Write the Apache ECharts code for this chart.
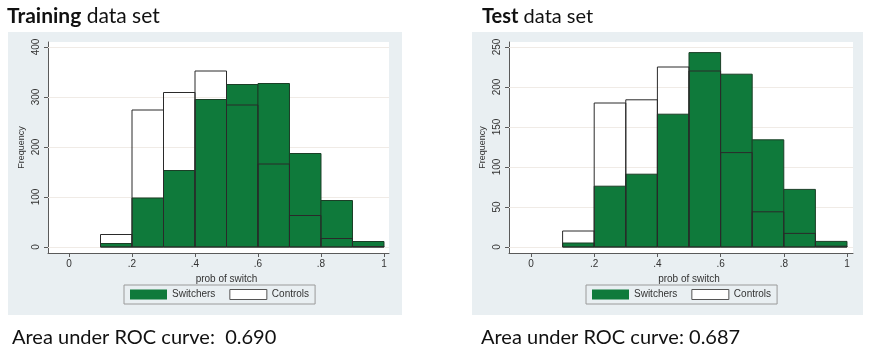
<!DOCTYPE html>
<html>
<head>
<meta charset="utf-8">
<script src="https://cdn.jsdelivr.net/npm/echarts@6/dist/echarts.min.js"></script>
<style>
  html, body { margin: 0; padding: 0; background: #fff; }
  #chart { width: 878px; height: 346px; }
</style>
</head>
<body>
<div id="chart"></div>
<script>
// histogram bins: edges of prob of switch
const binEdges = [0.1, 0.2, 0.3, 0.4, 0.5, 0.6, 0.7, 0.8, 0.9, 1.0]
const xTicks = [0, 0.2, 0.4, 0.6, 0.8, 1]

// training data set
const trainSwitchers = [7, 98, 153, 295, 325, 327, 187, 93, 11]
const trainControls = [25, 274, 309, 352, 284, 166, 63, 17, 1]
const trainYTicks = [0, 100, 200, 300, 400]

// test data set
const testSwitchers = [5, 76, 91, 166, 243, 216, 134, 72, 7]
const testControls = [20, 180, 184, 225, 220, 118, 44, 17, 1]
const testYTicks = [0, 50, 100, 150, 200, 250]

const GREEN = '#0f7a3b'
const PANEL = '#e9eff2'
const AXIS = '#5a5a5a'
const SANS = '"Liberation Sans", Arial, sans-serif'
const TITLE_FONT = 'Lato, "Open Sans", sans-serif'

const toBins = vals => vals.map((v, i) => [binEdges[i], binEdges[i + 1], v])

const renderBin = (fill, stroke) => (params, api) => {
  const p0 = api.coord([api.value(0), 0])
  const p1 = api.coord([api.value(1), api.value(2)])
  return {
    type: 'rect',
    shape: { x: p0[0], y: p1[1], width: p1[0] - p0[0], height: p0[1] - p1[1] },
    style: { fill, stroke, lineWidth: 1 }
  }
}

// faint horizontal grid line across the whole plot region
const renderGridLine = (params, api) => {
  const cs = params.coordSys
  const y = Math.round(api.coord([0, api.value(0)])[1]) + 0.5
  return {
    type: 'line',
    shape: { x1: cs.x, y1: y, x2: cs.x + cs.width, y2: y },
    style: { stroke: '#f0ebe6', lineWidth: 1 }
  }
}

const fmtX = v => (v === 0 ? '0' : v === 1 ? '1' : String(v).replace(/^0\./, '.'))

const makeX = (gridIndex, min, max) => ({
  type: 'value', gridIndex, min, max,
  name: 'prob of switch', nameLocation: 'middle', nameGap: 13,
  nameTextStyle: { fontFamily: SANS, fontSize: 10, color: '#333', padding: [0, 0, 0, 16] },
  axisLine: { show: true, onZero: false, lineStyle: { color: AXIS, width: 1 } },
  axisTick: { show: true, length: 4, lineStyle: { color: AXIS }, customValues: xTicks },
  axisLabel: { fontFamily: SANS, fontSize: 10, color: '#333', margin: 6, customValues: xTicks, formatter: fmtX },
  splitLine: { show: false }
})

const makeY = (gridIndex, min, max, ticks) => ({
  type: 'value', gridIndex, min, max,
  name: 'Frequency', nameLocation: 'middle', nameGap: 22,
  nameTextStyle: { fontFamily: SANS, fontSize: 9, color: '#333' },
  axisLine: { show: true, onZero: false, lineStyle: { color: AXIS, width: 1 } },
  axisTick: { show: true, length: 4, lineStyle: { color: AXIS }, customValues: ticks },
  axisLabel: { fontFamily: SANS, fontSize: 10, color: '#333', rotate: 90, margin: 7, customValues: ticks },
  splitLine: { show: false }
})

const gridLines = (idx, ticks) => ({
  type: 'custom', xAxisIndex: idx, yAxisIndex: idx, z: 1, silent: true,
  renderItem: renderGridLine,
  encode: { y: 0 },
  data: ticks.map(v => [v])
})

const binSeries = (idx, name, vals, fill, stroke, z) => ({
  type: 'custom', name, xAxisIndex: idx, yAxisIndex: idx, z,
  renderItem: renderBin(fill, stroke),
  encode: { x: [0, 1], y: 2 },
  data: toBins(vals)
})

const makeLegend = left => ({
  left, top: 285, orient: 'horizontal',
  padding: [4, 6], itemGap: 14, itemWidth: 37, itemHeight: 10,
  borderColor: '#9a9a9a', borderWidth: 1, borderRadius: 0,
  textStyle: { fontFamily: SANS, fontSize: 10, color: '#333' },
  selectedMode: false,
  data: [
    { name: 'Switchers', icon: 'rect', itemStyle: { color: GREEN, borderColor: GREEN, borderWidth: 0 } },
    { name: 'Controls', icon: 'rect', itemStyle: { color: '#fff', borderColor: '#555', borderWidth: 1 } }
  ]
})

const titleStyle = { fontFamily: TITLE_FONT, fontSize: 20, fontWeight: 'normal', color: '#111' }

const chart = echarts.init(document.getElementById('chart'), null, { renderer: 'canvas' })

chart.setOption({
  animation: false,
  backgroundColor: '#fff',
  graphic: [
    { type: 'rect', z: -10, silent: true, shape: { x: 8, y: 32, width: 394, height: 283 }, style: { fill: PANEL } },
    { type: 'rect', z: -10, silent: true, shape: { x: 472, y: 32, width: 391, height: 283 }, style: { fill: PANEL } }
  ],
  title: [
    {
      text: '{b|Training} data set', left: 2, top: 1,
      textStyle: Object.assign({}, titleStyle, { fontSize: 21,
        rich: { b: { fontFamily: TITLE_FONT, fontSize: 21, fontWeight: 'bold', color: '#111' } } })
    },
    {
      text: '{b|Test} data set', left: 477, top: 2,
      textStyle: Object.assign({}, titleStyle, {
        rich: { b: { fontFamily: TITLE_FONT, fontSize: 20, fontWeight: 'bold', color: '#111' } } })
    },
    { text: 'Area under ROC curve:  0.690', left: 7, top: 323, textStyle: titleStyle },
    { text: 'Area under ROC curve: 0.687', left: 476, top: 323, textStyle: titleStyle }
  ],
  legend: [makeLegend(124), makeLegend(586)],
  grid: [
    { left: 48, top: 42, width: 341, height: 211, show: true, backgroundColor: '#fff', borderWidth: 0 },
    { left: 509, top: 42, width: 344, height: 211, show: true, backgroundColor: '#fff', borderWidth: 0 }
  ],
  xAxis: [makeX(0, -0.0667, 1.0159), makeX(1, -0.0696, 1.019)],
  yAxis: [makeY(0, -12, 410, trainYTicks), makeY(1, -7.5, 256.25, testYTicks)],
  series: [
    gridLines(0, trainYTicks),
    binSeries(0, 'Switchers', trainSwitchers, GREEN, '#1b3f27', 2),
    binSeries(0, 'Controls', trainControls, 'none', '#2a2a2a', 3),
    gridLines(1, testYTicks),
    binSeries(1, 'Switchers', testSwitchers, GREEN, '#1b3f27', 2),
    binSeries(1, 'Controls', testControls, 'none', '#2a2a2a', 3)
  ]
})
</script>
</body>
</html>
